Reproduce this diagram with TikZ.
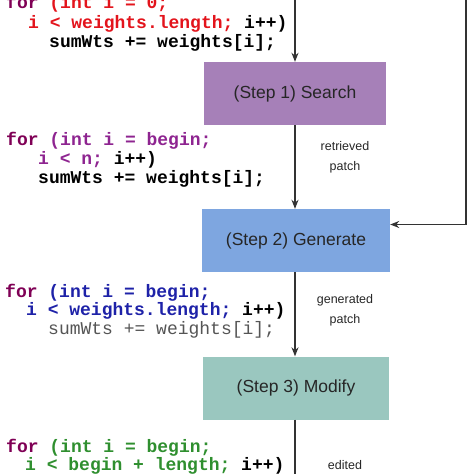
\documentclass[tikz,border=0pt]{standalone}
\usepackage{fontspec}
\setmainfont{Liberation Sans}
\newfontfamily\codefont{Liberation Mono}
\usetikzlibrary{arrows.meta}
\definecolor{kw}{HTML}{7F0055}
\definecolor{cred}{HTML}{E3141C}
\definecolor{cpur}{HTML}{8E2490}
\definecolor{cblue}{HTML}{1E22A8}
\definecolor{cgreen}{HTML}{2F8F2F}
\definecolor{cgrey}{HTML}{555555}
\definecolor{fpur}{HTML}{A680B8}
\definecolor{fblue}{HTML}{7EA6E0}
\definecolor{fteal}{HTML}{9AC7BF}
\definecolor{lin}{HTML}{333333}
\tikzset{
  code/.style={anchor=base west, inner sep=0pt, font=\codefont\bfseries\fontsize{18}{19}\selectfont},
  codelight/.style={anchor=base west, inner sep=0pt, font=\codefont\fontsize{18}{19}\selectfont, text=cgrey},
  stepbox/.style={minimum width=186pt, minimum height=63pt, inner sep=0pt, font=\fontsize{17.5}{19}\selectfont, text=black!85},
  lbl/.style={inner sep=0pt, font=\fontsize{12.5}{14}\selectfont, text=black!85, align=center},
  conn/.style={draw=lin, line width=1.3pt, -{Stealth[length=9pt,width=7pt]}}
}
\begin{document}
\begin{tikzpicture}[x=1pt,y=-1pt]
\useasboundingbox (0,0) rectangle (474,474);
% boxes
\node[stepbox, fill=fpur, minimum width=182pt] (search) at (295,93.5) {(Step 1) Search};
\node[stepbox, fill=fblue, minimum width=188pt] (gen) at (296,240.5) {(Step 2) Generate};
\node[stepbox, fill=fteal] (mod) at (296,388) {(Step 3) Modify};
% coordinates
\coordinate (top) at (295,-2);
\coordinate (fbtop) at (466,-2);
\coordinate (bot) at (295,476);
% connectors
\draw[conn] (top) -- (search.north);
\draw[conn] (search.south) -- (search.south |- gen.north);
\draw[conn] (gen.south -| search.south) -- (search.south |- mod.north);
\draw[draw=lin, line width=1.3pt] (search.south |- mod.south) -- (bot);
\draw[conn] (fbtop) |- ([yshift=16pt]gen.east);
% labels
\node[lbl] (l1) at (345,157.5) {retrieved\\[6.5pt]patch};
\node[lbl] (l2) at (345,310.5) {generated\\[6.5pt]patch};
\node[lbl, anchor=base] (l3) at (345,469) {edited};
% code block 1
\node[code] (a1) at (6,8) {\textcolor{kw}{for} \textcolor{cred}{(int i = 0;}};
\node[code] (a2) at (28,28) {\textcolor{cred}{i < weights.length;} i++)};
\node[code] (a3) at (49,47) {sumWts += weights[i];};
% code block 2
\node[code] (b1) at (6,145) {\textcolor{kw}{for} \textcolor{cpur}{(int i = begin;}};
\node[code] (b2) at (38,164) {\textcolor{cpur}{i < n;} i++)};
\node[code] (b3) at (38,183) {sumWts += weights[i];};
% code block 3
\node[code] (c1) at (5,297) {\textcolor{kw}{for} \textcolor{cblue}{(int i = begin;}};
\node[code] (c2) at (26,315.5) {\textcolor{cblue}{i < weights.length;} i++)};
\node[codelight] (c3) at (48,334) {sumWts += weights[i];};
% code block 4
\node[code] (d1) at (6,452) {\textcolor{kw}{for} \textcolor{cgreen}{(int i = begin;}};
\node[code] (d2) at (25,470.5) {\textcolor{cgreen}{i < begin + length;} i++)};
\end{tikzpicture}
\end{document}
